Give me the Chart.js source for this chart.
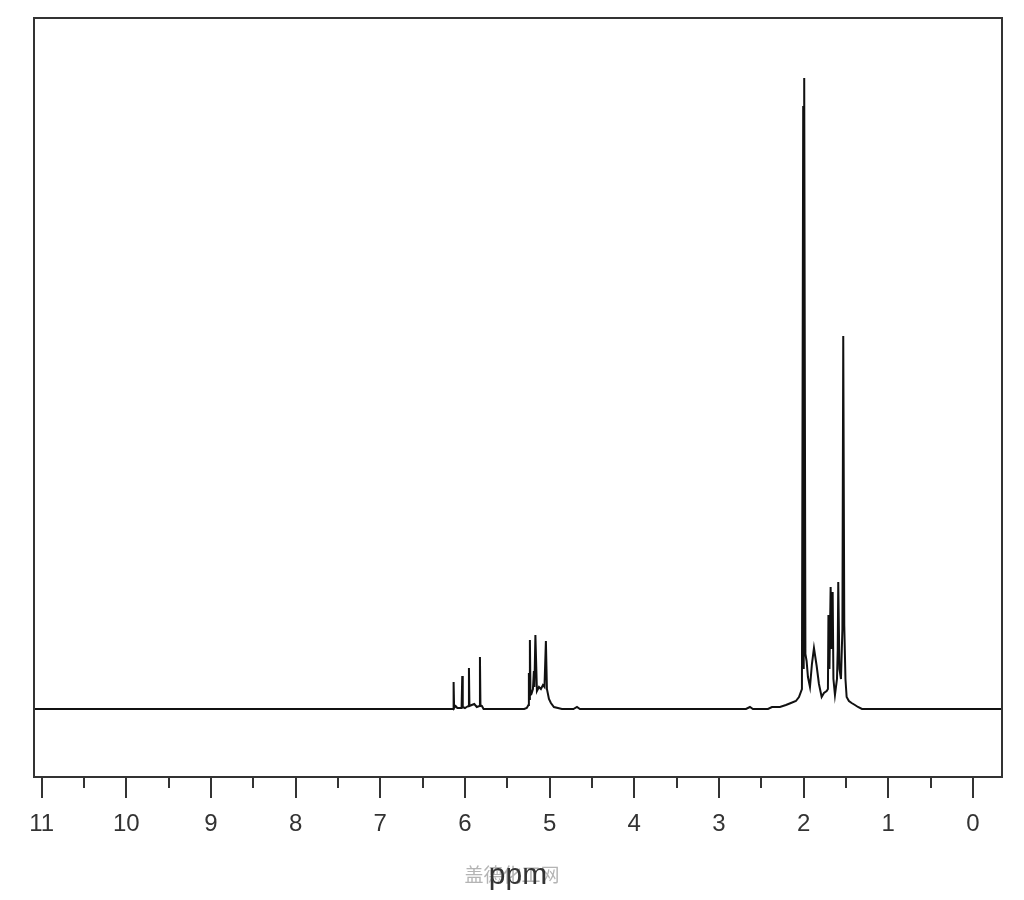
<!DOCTYPE html>
<html>
<head>
<meta charset="utf-8">
<title>1H NMR spectrum</title>
<script src="https://cdn.jsdelivr.net/npm/chart.js@4/dist/chart.umd.min.js"></script>
<style>
  html, body { margin: 0; padding: 0; background: #fff; }
  #wrap { width: 1024px; height: 900px; }
</style>
</head>
<body>
<div id="wrap"><canvas id="nmr" width="1024" height="900"></canvas></div>
<script>
// chemical shift (ppm) and intensity (arbitrary units, baseline = 0)
const shiftPpm = [
  11.2, 6.20, 6.14, 6.134, 6.128, 6.11, 6.09, 6.04, 6.032, 6.026, 6.00, 5.98, 5.959, 5.953, 5.947,
  5.92, 5.89, 5.86, 5.829, 5.823, 5.817, 5.80, 5.78,
  5.30, 5.27, 5.250, 5.245, 5.239, 5.233, 5.226, 5.215, 5.197, 5.186, 5.180, 5.168, 5.150,
  5.126, 5.103, 5.079, 5.061, 5.044, 5.032, 5.008, 4.985, 4.949, 4.902, 4.855,
  4.719, 4.677, 4.642, 2.681, 2.634, 2.599,
  2.421, 2.374, 2.280, 2.209, 2.150, 2.091, 2.055, 2.020, 2.005, 1.999, 1.993, 1.979,
  1.965, 1.949, 1.925, 1.902, 1.878, 1.846, 1.819, 1.787, 1.760, 1.728, 1.713, 1.707, 1.695,
  1.681, 1.669, 1.657, 1.648, 1.630, 1.606, 1.597, 1.591, 1.577, 1.559, 1.542, 1.532, 1.520,
  1.506, 1.492, 1.465, 1.433, 1.394, 1.358, 1.311, -0.5
];
const intensity = [
  0, 0, 0, 27, 1, 3, 1, 1, 33, 2, 1, 2, 3, 41, 3,
  4, 5, 2, 3, 52, 4, 3, 0,
  0, 1, 4, 36, 10, 69, 14, 15, 20, 38, 22, 74, 18,
  22, 20, 24, 22, 68, 20, 10, 6, 2, 1, 0,
  0, 2, 0, 0, 2, 0,
  0, 2, 2, 4, 6, 8, 12, 20, 603, 40, 631, 55,
  48, 32, 22, 45, 61, 43, 25, 12, 16, 18, 20, 94, 40,
  122, 60, 117, 30, 14, 30, 60, 127, 40, 30, 80, 373, 84,
  30, 12, 8, 6, 4, 2, 0, 0
];

// axis
const axisMin = -0.343;
const axisMax = 11.09;
const majorTicks = [0, 1, 2, 3, 4, 5, 6, 7, 8, 9, 10, 11];
const minorTicks = [0.5, 1.5, 2.5, 3.5, 4.5, 5.5, 6.5, 7.5, 8.5, 9.5, 10.5];
const axisTitle = 'ppm';
const watermark = '盖德化工网';

const points = shiftPpm.map((p, i) => ({ x: p, y: intensity[i] }));

const framePlugin = {
  id: 'frame',
  afterDraw(chart) {
    const { ctx, chartArea: a } = chart;
    const xs = chart.scales.x;
    ctx.save();
    ctx.strokeStyle = '#333';
    ctx.lineWidth = 2;
    ctx.strokeRect(a.left, a.top, a.right - a.left, a.bottom - a.top);

    // tick marks
    ctx.beginPath();
    majorTicks.forEach((v) => {
      const px = Math.round(xs.getPixelForValue(v));
      ctx.moveTo(px, a.bottom);
      ctx.lineTo(px, a.bottom + 21);
    });
    minorTicks.forEach((v) => {
      const px = Math.round(xs.getPixelForValue(v));
      ctx.moveTo(px, a.bottom);
      ctx.lineTo(px, a.bottom + 11);
    });
    ctx.stroke();

    // tick labels
    ctx.fillStyle = '#333';
    ctx.font = '24px "Liberation Sans", Arial, sans-serif';
    ctx.textAlign = 'center';
    ctx.textBaseline = 'alphabetic';
    majorTicks.forEach((v) => {
      ctx.fillText(String(v), xs.getPixelForValue(v), a.bottom + 54);
    });

    // watermark, then axis title on top
    const cx = (a.left + a.right) / 2;
    ctx.fillStyle = '#b4b4b4';
    ctx.font = '19px "Noto Sans CJK SC", sans-serif';
    ctx.fillText(watermark, cx - 6, 882);
    ctx.fillStyle = '#333';
    ctx.font = '30px "Liberation Sans", Arial, sans-serif';
    ctx.fillText(axisTitle, cx, 884);
    ctx.restore();
  },
};

new Chart(document.getElementById('nmr'), {
  type: 'line',
  data: {
    datasets: [
      {
        data: points,
        borderColor: '#111',
        borderWidth: 2,
        pointRadius: 0,
        tension: 0,
        fill: false,
      },
    ],
  },
  options: {
    responsive: false,
    animation: false,
    devicePixelRatio: 1,
    layout: { padding: { left: 34, right: 22, top: 18, bottom: 123 } },
    plugins: { legend: { display: false }, tooltip: { enabled: false } },
    scales: {
      x: { type: 'linear', reverse: true, min: axisMin, max: axisMax, display: false },
      y: { min: -68, max: 691, display: false },
    },
  },
  plugins: [framePlugin],
});
</script>
</body>
</html>
